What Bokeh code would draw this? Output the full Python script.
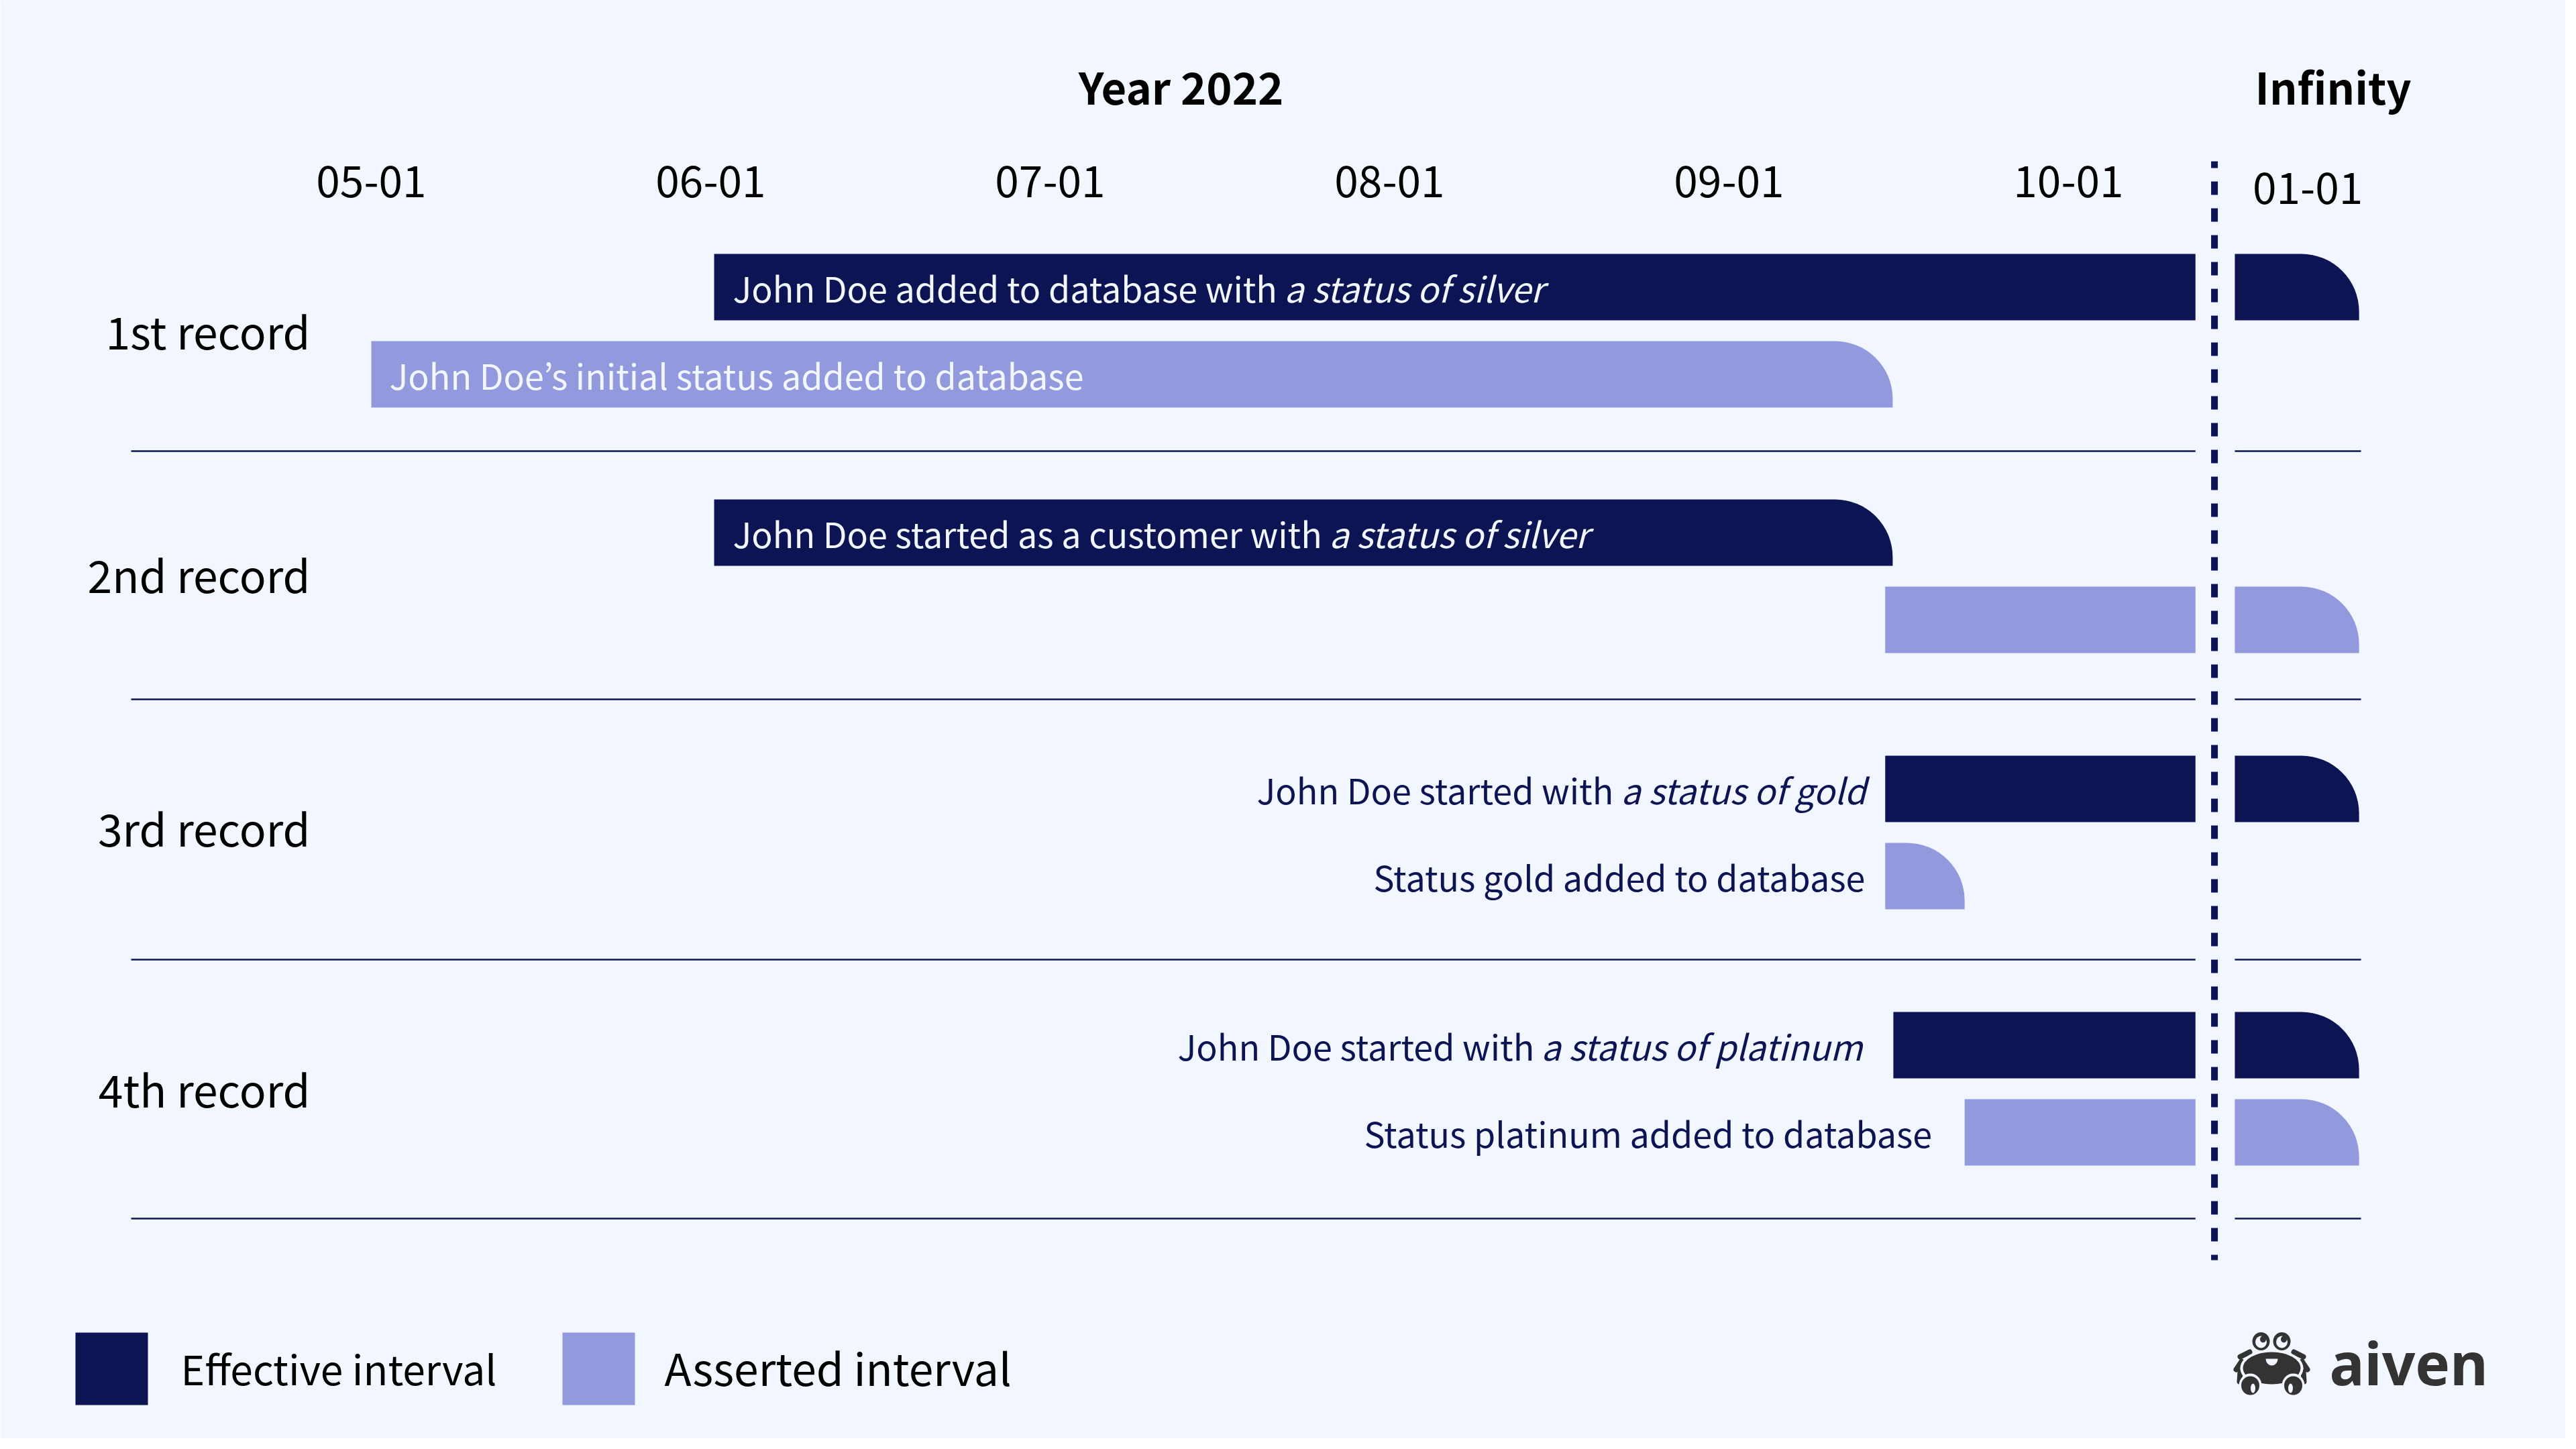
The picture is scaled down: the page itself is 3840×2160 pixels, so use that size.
from math import cos, sin, pi

from bokeh.core.properties import value
from bokeh.embed import file_html
from bokeh.models import FixedTicker, LinearAxis, Range1d
from bokeh.plotting import figure
from bokeh.resources import INLINE

# values, x in months (5.0 = 05-01, 10.0 = 10-01)
records = ["1st record", "2nd record", "3rd record", "4th record"]
tick_months = [5, 6, 7, 8, 9, 10]
tick_labels = ["05-01", "06-01", "07-01", "08-01", "09-01", "10-01"]

effective_start = [6.01, 6.01, 9.46, 9.484]
effective_end = [10.374, 9.482, 10.374, 10.374]
effective_open = [True, False, True, True]

asserted_start = [5.0, 9.46, 9.46, 9.694]
asserted_end = [9.482, 10.374, 9.694, 10.374]
asserted_open = [False, True, False, True]

infinity_start = 10.49
infinity_end = 10.856
infinity_tick = 10.705
cut_month = 10.43

# texts
plain_labels = ["John Doe added to database with ", "John Doe’s initial status added to database",
                "John Doe started as a customer with ", "", "John Doe started with ",
                "Status gold added to database", "John Doe started with ", "Status platinum added to database"]
italic_labels = ["a status of silver", "", "a status of silver", "", "a status of gold", "",
                 "a status of platinum", ""]
label_white = [True, True, True, False, False, False, False, False]

# layout, page pixels
plain_x = [1100, 588, 1100, 0, 1881, 2055, 1763, 2041]
italic_x = [1922, 0, 1989, 0, 2424, 0, 2305, 0]
row_top = [386, 752, 1134, 1516]
record_y = [499, 862, 1240, 1629]
separator_y = [680, 1050, 1438, 1824]
track_gap = 130
bar_height = 99
baseline_gap = 71
corner = 86
month_px = 506
month5_px = 561

BG = "#f2f6ff"
DARK = "#0c1454"
LIGHT = "#9299dc"
INK = "#000000"
LOGO = "#333333"
SANS = "Noto Sans CJK JP"
LABEL_SIZE = 52
BIG_SIZE = 66
TICK_SIZE = 64
BASELINE_FIX = 0.41  # svg text sits this many ems low


def to_month(px):
    return 5 + (px - month5_px) / month_px


p = figure(width=3824, height=2144, output_backend="svg", toolbar_location=None,
           x_axis_type=None, y_axis_type=None,
           x_range=Range1d(to_month(8), to_month(3832)), y_range=Range1d(2152, 8),
           min_border=0, background_fill_color=BG, border_fill_color=BG, outline_line_color=None)
p.extra_x_ranges["page"] = Range1d(8, 3832)

# tick labels
month_axis = LinearAxis(fixed_location=301, ticker=FixedTicker(ticks=tick_months),
                        major_label_overrides=dict(zip(tick_months, tick_labels)))
inf_axis = LinearAxis(fixed_location=311, ticker=FixedTicker(ticks=[infinity_tick]),
                      major_label_overrides={infinity_tick: "01-01"})
record_axis = LinearAxis(fixed_location=to_month(470), ticker=FixedTicker(ticks=record_y),
                         major_label_overrides=dict(zip(record_y, records)))
for axis, side, size in [(month_axis, "above", TICK_SIZE), (inf_axis, "above", TICK_SIZE), (record_axis, "left", BIG_SIZE)]:
    axis.axis_line_color = None
    axis.major_tick_line_color = None
    axis.minor_tick_line_color = None
    axis.major_tick_out = 0
    axis.major_label_standoff = 0
    axis.major_label_text_font = SANS
    axis.major_label_text_font_size = f"{size}px"
    axis.major_label_text_color = INK
    p.add_layout(axis, side)


def page_text(x, y, text, color, size, style="normal", font=SANS, align="left"):
    p.text([x], [y - BASELINE_FIX * size], [text], x_range_name="page", text_font=value(font),
           text_font_size=f"{size}px", text_font_style=style, text_color=color, text_align=align,
           text_baseline="alphabetic")


# headers
page_text(1768, 162, "Year 2022", INK, 65, "bold", align="center")
page_text(3369, 162, "Infinity", INK, 65, "bold")


def draw_series(starts, ends, opens, track, color):
    tops = [t + track * track_gap for t in row_top]
    bottoms = [t + bar_height for t in tops]
    square = [i for i in range(4) if opens[i]]
    rounded = [i for i in range(4) if not opens[i]]
    p.quad(left=[starts[i] for i in square], right=[ends[i] for i in square],
           top=[tops[i] for i in square], bottom=[bottoms[i] for i in square],
           fill_color=color, line_color=None)
    p.quad(left=[starts[i] for i in rounded], right=[ends[i] for i in rounded],
           top=[tops[i] for i in rounded], bottom=[bottoms[i] for i in rounded],
           fill_color=color, line_color=None, border_radius=(0, corner, 0, 0))
    p.quad(left=[infinity_start] * len(square), right=[infinity_end] * len(square),
           top=[tops[i] for i in square], bottom=[bottoms[i] for i in square],
           fill_color=color, line_color=None, border_radius=(0, corner, 0, 0))


draw_series(effective_start, effective_end, effective_open, 0, DARK)
draw_series(asserted_start, asserted_end, asserted_open, 1, LIGHT)

# separators and the cut
left_end = to_month(203)
p.segment([left_end] * 4, separator_y, [effective_end[0]] * 4, separator_y, line_color=DARK, line_width=2.5)
p.segment([infinity_start] * 4, separator_y, [to_month(3527)] * 4, separator_y, line_color=DARK, line_width=2.5)
p.line([cut_month, cut_month], [248, 1886], line_color=DARK, line_width=10,
       line_dash=[20, 20], line_dash_offset=10)

# bar labels
for i in range(8):
    if not plain_labels[i]:
        continue
    y = row_top[i // 2] + (i % 2) * track_gap + baseline_gap
    color = BG if label_white[i] else DARK
    page_text(plain_x[i], y, plain_labels[i], color, LABEL_SIZE)
    if italic_labels[i]:
        page_text(italic_x[i], y, italic_labels[i], color, LABEL_SIZE, "italic")

# legend
p.quad(left=[120], right=[228], top=[1994], bottom=[2102], x_range_name="page", fill_color=DARK, line_color=None)
p.quad(left=[846], right=[954], top=[1994], bottom=[2102], x_range_name="page", fill_color=LIGHT, line_color=None)
page_text(277, 2071, "Effective interval", INK, 60.5)
page_text(998, 2072, "Asserted interval", INK, BIG_SIZE)

# logo
cx = 3394
p.multi_line([[3347, 3361], [3341, 3349], [3346, 3347], [2 * cx - 3347, 2 * cx - 3361],
              [2 * cx - 3341, 2 * cx - 3349], [2 * cx - 3346, 2 * cx - 3347]],
             [[2030, 2023], [2049, 2037], [2067, 2052], [2030, 2023], [2049, 2037], [2067, 2052]],
             x_range_name="page", line_color=LOGO, line_width=8, line_cap="round")
p.ellipse([cx], [2047], width=94, height=56, x_range_name="page", fill_color=BG, line_color=None)
p.ellipse([cx], [2047], width=86, height=48, x_range_name="page", fill_color=LOGO, line_color=None)
p.ellipse([3378, 3409], [2007, 2007], width=26, height=27, x_range_name="page", fill_color=LOGO, line_color=None)
p.ellipse([3378, 3409], [2008, 2008], width=17, height=18, x_range_name="page", fill_color=BG, line_color=None)
p.ellipse([3381, 3412], [2004, 2004], width=9, height=10, x_range_name="page", fill_color=LOGO, line_color=None)
p.ellipse([3362, 3426], [2073, 2073], width=34, height=36, x_range_name="page", fill_color=BG, line_color=None)
p.ellipse([3362, 3426], [2073, 2073], width=27, height=28, x_range_name="page", fill_color=LOGO, line_color=None)
p.ellipse([3366, 3422], [2077, 2077], width=7, height=14, x_range_name="page", fill_color=BG, line_color=None)
mouth = [pi * k / 12 for k in range(13)]
p.patch([cx + 9 * cos(a) for a in mouth], [2033 + 10 * sin(a) for a in mouth], x_range_name="page",
        fill_color=BG, line_color=None)
page_text(3480, 2074, "aiven", LOGO, 87, "bold", font="Noto Sans")

open("out.html", "w").write(file_html(p, INLINE))
